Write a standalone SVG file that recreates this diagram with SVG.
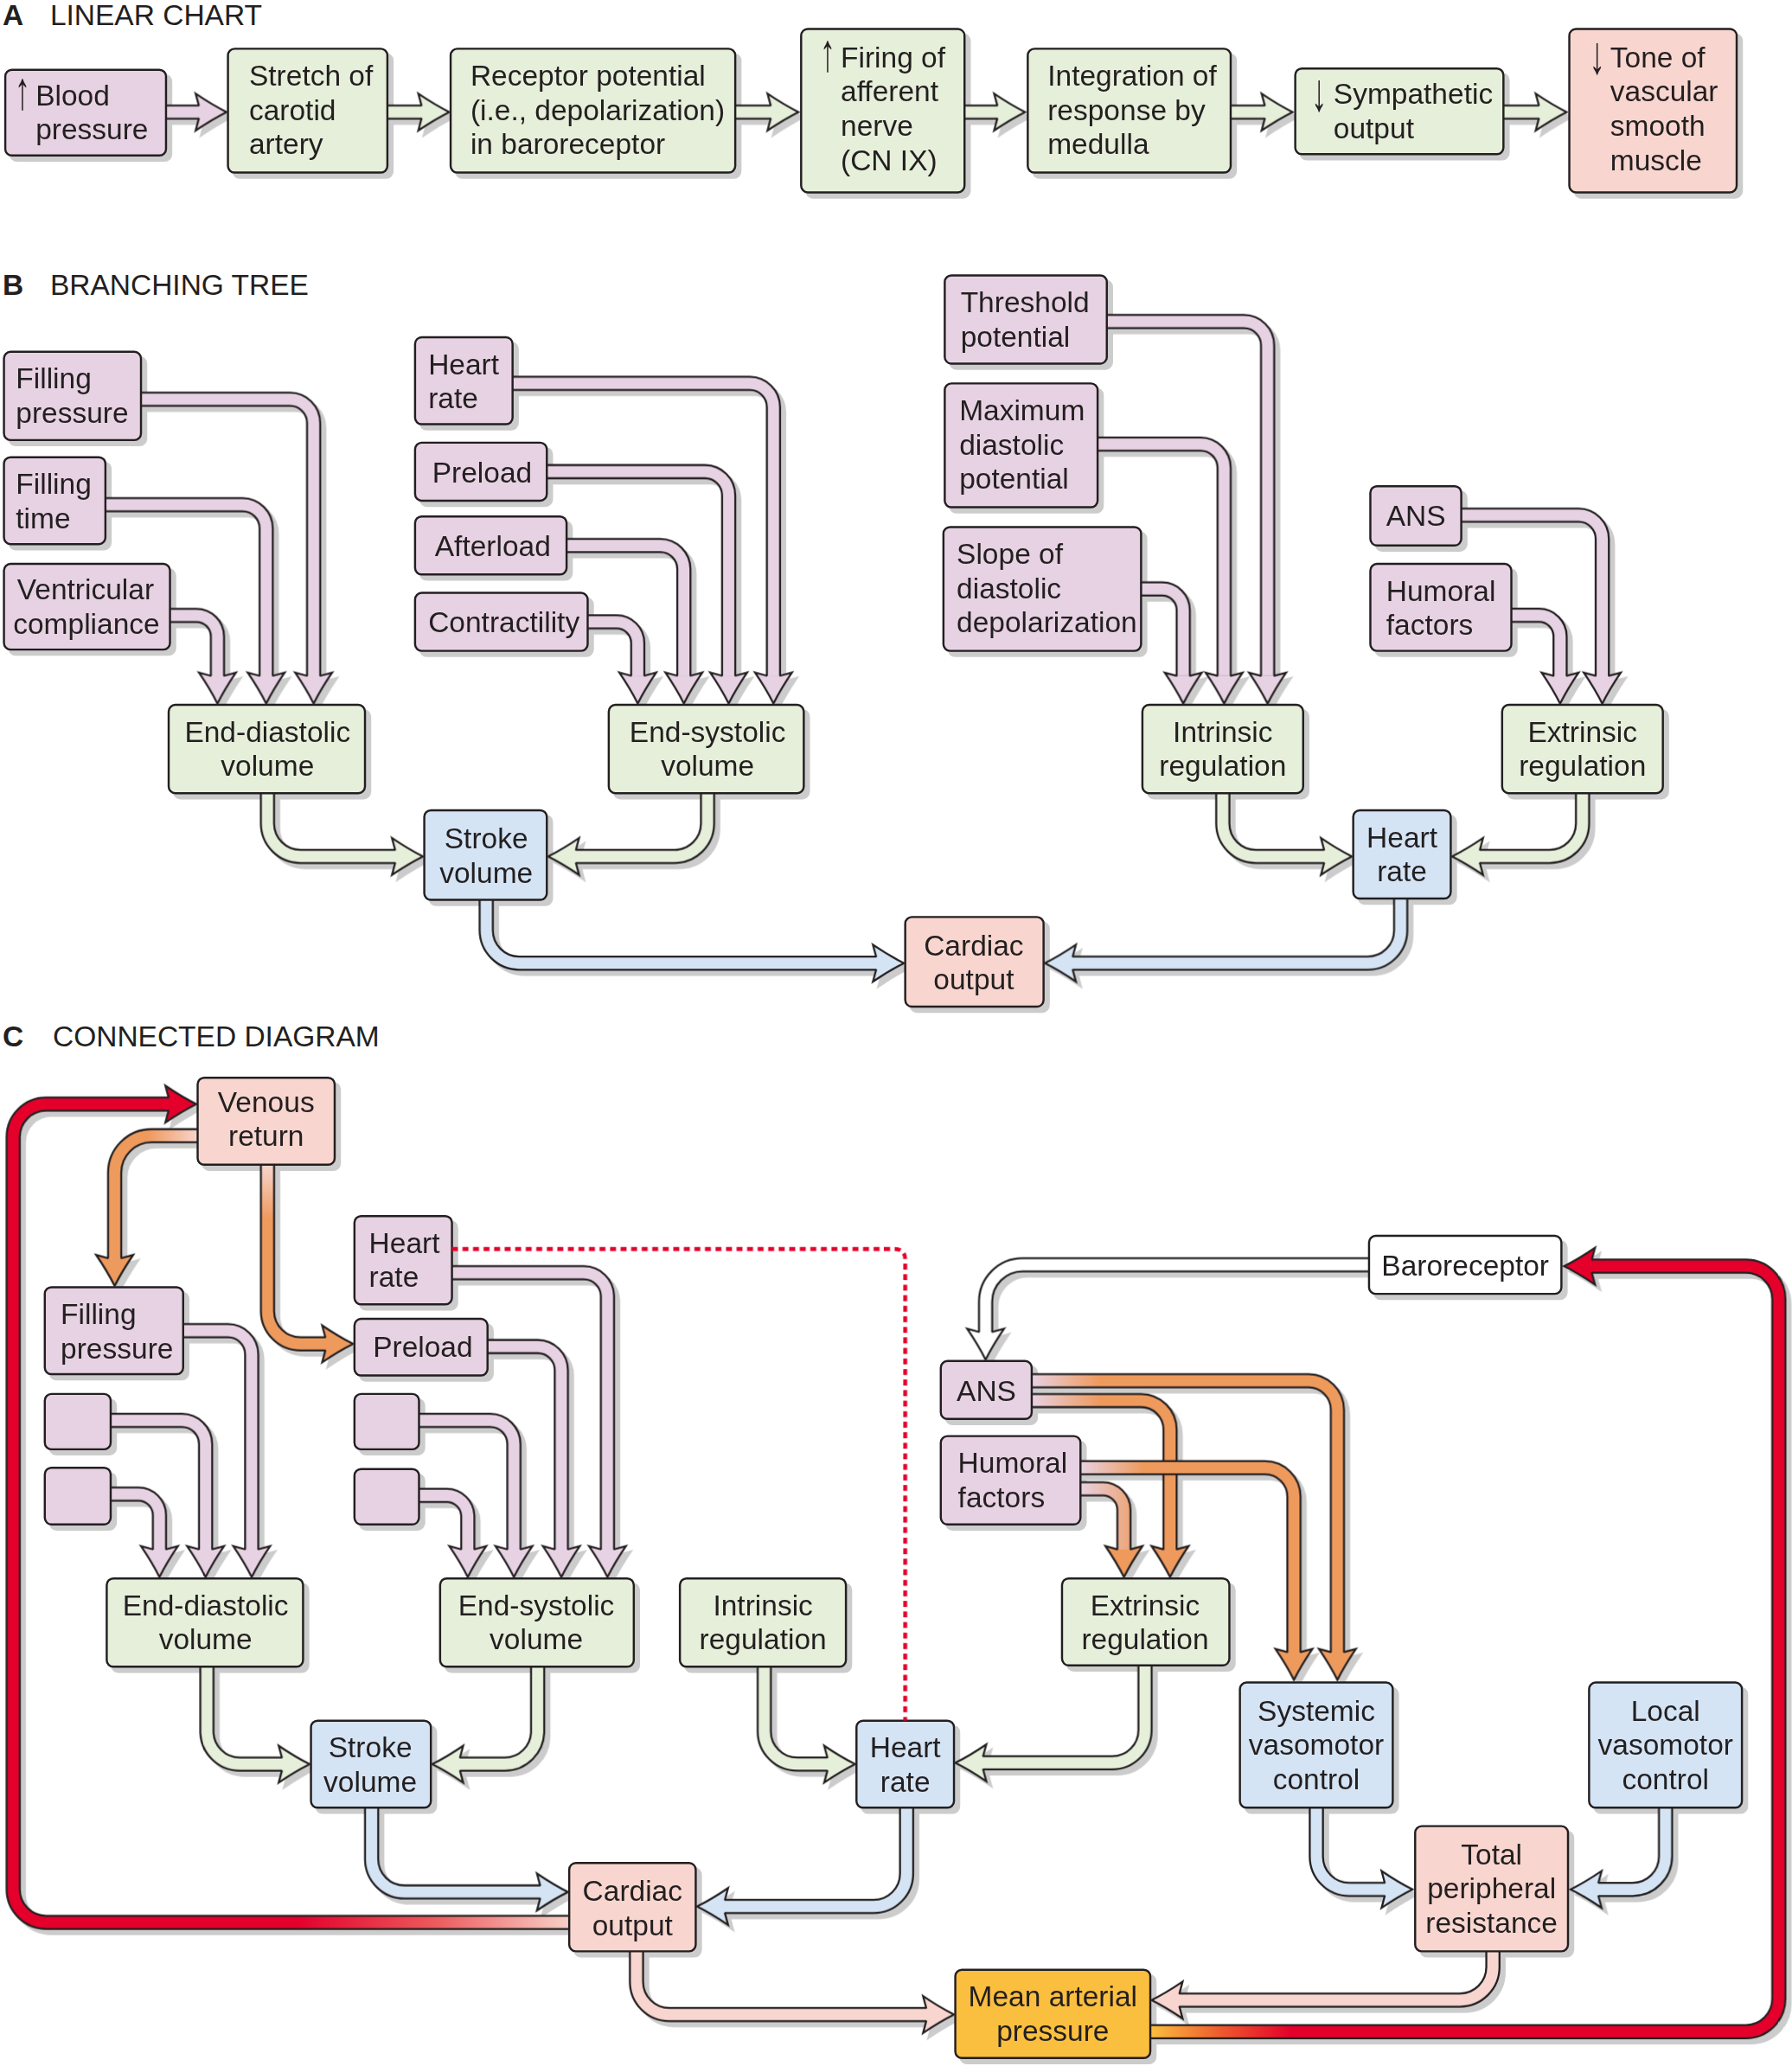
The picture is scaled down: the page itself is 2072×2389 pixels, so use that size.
<svg xmlns="http://www.w3.org/2000/svg" width="2072" height="2389" viewBox="0 0 2072 2389">
<defs>
<style>
text{font-family:"Liberation Sans",Arial,Helvetica,sans-serif;font-size:22px;fill:#231f20}
.t{font-weight:bold}
.m{text-anchor:middle}
.bx{stroke:#231f20;stroke-width:1.6}
.pk{fill:#e7d2e3}.gr{fill:#e6efda}.bl{fill:#d4e4f4}.sa{fill:#f8d6cf}.ye{fill:#fbbf3f}.wh{fill:#ffffff}
.o{fill:none;stroke:#231f20;stroke-width:11.5}
.i{fill:none;stroke-width:8.5}
.cp .i{stroke:#e7d2e3}.cp use{fill:#e7d2e3}
.cg .i{stroke:#e6efda}.cg use{fill:#e6efda}
.cb .i{stroke:#d4e4f4}.cb use{fill:#d4e4f4}
.cs .i{stroke:#f8d6cf}.cs use{fill:#f8d6cf}
.co .i{stroke:#ef9a5d}.co use{fill:#ef9a5d}
.cr .i{stroke:#e4002b}.cr use{fill:#e4002b}
.cw .i{stroke:#ffffff}.cw use{fill:#ffffff}
.dot{fill:none;stroke:#e4002b;stroke-width:3;stroke-dasharray:4.5 3.5}
.ar{text-anchor:middle;font-size:24px;font-weight:bold}
</style>
<path id="hd" d="M-21,-4.6 L-23.5,-14 Q-11,-5.5 0,0 Q-11,5.5 -23.5,14 L-21,4.6" stroke="#231f20" stroke-width="1.5" stroke-linejoin="miter"/>
<filter id="sh" x="-2%" y="-2%" width="104%" height="104%" color-interpolation-filters="sRGB">
<feOffset in="SourceAlpha" dx="4" dy="4" result="o"/>
<feFlood flood-color="#cccccc"/>
<feComposite in2="o" operator="in" result="s"/>
<feMerge><feMergeNode in="s"/><feMergeNode in="SourceGraphic"/></feMerge>
</filter>
<linearGradient id="gRed" gradientUnits="userSpaceOnUse" x1="433" y1="0" x2="225" y2="0"><stop offset="0" stop-color="#f9d2c9"/><stop offset="0.5" stop-color="#ec5a5c"/><stop offset="1" stop-color="#e4002b"/></linearGradient>
<linearGradient id="gVR1" gradientUnits="userSpaceOnUse" x1="151" y1="0" x2="112" y2="0"><stop offset="0" stop-color="#f8d6cf"/><stop offset="1" stop-color="#ef9a5d"/></linearGradient>
<linearGradient id="gVR2" gradientUnits="userSpaceOnUse" x1="0" y1="884" x2="0" y2="925"><stop offset="0" stop-color="#f8d6cf"/><stop offset="1" stop-color="#ef9a5d"/></linearGradient>
<linearGradient id="gAns" gradientUnits="userSpaceOnUse" x1="783" y1="0" x2="835" y2="0"><stop offset="0" stop-color="#e7d2e3"/><stop offset="1" stop-color="#ef9a5d"/></linearGradient>
<linearGradient id="gHum" gradientUnits="userSpaceOnUse" x1="820" y1="0" x2="868" y2="0"><stop offset="0" stop-color="#e7d2e3"/><stop offset="1" stop-color="#ef9a5d"/></linearGradient>
<linearGradient id="gMap" gradientUnits="userSpaceOnUse" x1="873" y1="0" x2="980" y2="0"><stop offset="0" stop-color="#fbbf3f"/><stop offset="0.5" stop-color="#ef5a2e"/><stop offset="1" stop-color="#e4002b"/></linearGradient>
</defs>
<rect width="2072" height="2389" fill="#ffffff"/>
<g transform="scale(1.52353)">
<g id="titles">
<text class="t" x="2" y="19">A</text><text x="38" y="19">LINEAR CHART</text>
<text class="t" x="2" y="224">B</text><text x="38" y="224">BRANCHING TREE</text>
<text class="t" x="2" y="794">C</text><text x="40" y="794">CONNECTED DIAGRAM</text>
</g>
<g filter="url(#sh)">
<g id="connectors">
<!-- A -->
<g class="cp"><path class="o" d="M125 85H152"/><path class="i" d="M125 85H152"/><use href="#hd" transform="translate(172 85)"/></g>
<g class="cg"><path class="o" d="M293 85H321"/><path class="i" d="M293 85H321"/><use href="#hd" transform="translate(341 85)"/></g>
<g class="cg"><path class="o" d="M557 85H586"/><path class="i" d="M557 85H586"/><use href="#hd" transform="translate(606 85)"/></g>
<g class="cg"><path class="o" d="M731 85H758"/><path class="i" d="M731 85H758"/><use href="#hd" transform="translate(778 85)"/></g>
<g class="cg"><path class="o" d="M933 85H961"/><path class="i" d="M933 85H961"/><use href="#hd" transform="translate(981 85)"/></g>
<g class="cg"><path class="o" d="M1140 85H1169"/><path class="i" d="M1140 85H1169"/><use href="#hd" transform="translate(1189 85)"/></g>
<!-- B -->
<g class="cp"><path class="o" d="M106 303H220A18 18 0 0 1 238 321V513"/><path class="i" d="M106 303H220A18 18 0 0 1 238 321V513"/><use href="#hd" transform="translate(238 534) rotate(90)"/></g>
<g class="cp"><path class="o" d="M79 383H184A18 18 0 0 1 202 401V513"/><path class="i" d="M79 383H184A18 18 0 0 1 202 401V513"/><use href="#hd" transform="translate(202 534) rotate(90)"/></g>
<g class="cp"><path class="o" d="M128 467H149A16 16 0 0 1 165 483V513"/><path class="i" d="M128 467H149A16 16 0 0 1 165 483V513"/><use href="#hd" transform="translate(165 534) rotate(90)"/></g>
<g class="cg"><path class="o" d="M203 601V625A25 25 0 0 0 228 650H301"/><path class="i" d="M203 601V625A25 25 0 0 0 228 650H301"/><use href="#hd" transform="translate(321 650)"/></g>
<g class="cg"><path class="o" d="M537 601V625A25 25 0 0 1 512 650H436"/><path class="i" d="M537 601V625A25 25 0 0 1 512 650H436"/><use href="#hd" transform="translate(416 650) rotate(180)"/></g>
<g class="cp"><path class="o" d="M388 291H569A18 18 0 0 1 587 309V513"/><path class="i" d="M388 291H569A18 18 0 0 1 587 309V513"/><use href="#hd" transform="translate(587 534) rotate(90)"/></g>
<g class="cp"><path class="o" d="M414 358H535A18 18 0 0 1 553 376V513"/><path class="i" d="M414 358H535A18 18 0 0 1 553 376V513"/><use href="#hd" transform="translate(553 534) rotate(90)"/></g>
<g class="cp"><path class="o" d="M429 414H501A18 18 0 0 1 519 432V513"/><path class="i" d="M429 414H501A18 18 0 0 1 519 432V513"/><use href="#hd" transform="translate(519 534) rotate(90)"/></g>
<g class="cp"><path class="o" d="M445 472H468A16 16 0 0 1 484 488V513"/><path class="i" d="M445 472H468A16 16 0 0 1 484 488V513"/><use href="#hd" transform="translate(484 534) rotate(90)"/></g>
<g class="cb"><path class="o" d="M369 682V706A25 25 0 0 0 394 731H666"/><path class="i" d="M369 682V706A25 25 0 0 0 394 731H666"/><use href="#hd" transform="translate(686 731)"/></g>
<g class="cb"><path class="o" d="M1063 681V706A25 25 0 0 1 1038 731H813"/><path class="i" d="M1063 681V706A25 25 0 0 1 1038 731H813"/><use href="#hd" transform="translate(793 731) rotate(180)"/></g>
<g class="cp"><path class="o" d="M839 244H944A18 18 0 0 1 962 262V513"/><path class="i" d="M839 244H944A18 18 0 0 1 962 262V513"/><use href="#hd" transform="translate(962 534) rotate(90)"/></g>
<g class="cp"><path class="o" d="M832 337H911A18 18 0 0 1 929 355V513"/><path class="i" d="M832 337H911A18 18 0 0 1 929 355V513"/><use href="#hd" transform="translate(929 534) rotate(90)"/></g>
<g class="cp"><path class="o" d="M865 447H882A16 16 0 0 1 898 463V513"/><path class="i" d="M865 447H882A16 16 0 0 1 898 463V513"/><use href="#hd" transform="translate(898 534) rotate(90)"/></g>
<g class="cp"><path class="o" d="M1108 391H1198A18 18 0 0 1 1216 409V513"/><path class="i" d="M1108 391H1198A18 18 0 0 1 1216 409V513"/><use href="#hd" transform="translate(1216 534) rotate(90)"/></g>
<g class="cp"><path class="o" d="M1146 467H1168A16 16 0 0 1 1184 483V513"/><path class="i" d="M1146 467H1168A16 16 0 0 1 1184 483V513"/><use href="#hd" transform="translate(1184 534) rotate(90)"/></g>
<g class="cg"><path class="o" d="M928 601V625A25 25 0 0 0 953 650H1006"/><path class="i" d="M928 601V625A25 25 0 0 0 953 650H1006"/><use href="#hd" transform="translate(1026 650)"/></g>
<g class="cg"><path class="o" d="M1201 601V625A25 25 0 0 1 1176 650H1122"/><path class="i" d="M1201 601V625A25 25 0 0 1 1176 650H1122"/><use href="#hd" transform="translate(1102 650) rotate(180)"/></g>
<!-- C -->
<g class="cr"><path class="o" d="M433 1459H35A25 25 0 0 1 10 1434V863A25 25 0 0 1 35 838H129"/><path class="i" style="stroke:url(#gRed)" d="M433 1459H35A25 25 0 0 1 10 1434V863A25 25 0 0 1 35 838H129"/><use href="#hd" transform="translate(149 838)"/></g>
<g class="co"><path class="o" d="M151 862H115A28 28 0 0 0 87 890V955"/><path class="i" style="stroke:url(#gVR1)" d="M151 862H115A28 28 0 0 0 87 890V955"/><use href="#hd" transform="translate(87 976) rotate(90)"/></g>
<g class="co"><path class="o" d="M203 883V995A25 25 0 0 0 228 1020H248"/><path class="i" style="stroke:url(#gVR2)" d="M203 883V995A25 25 0 0 0 228 1020H248"/><use href="#hd" transform="translate(268 1020)"/></g>
<g class="cp"><path class="o" d="M138 1010H173A18 18 0 0 1 191 1028V1177"/><path class="i" d="M138 1010H173A18 18 0 0 1 191 1028V1177"/><use href="#hd" transform="translate(191 1197) rotate(90)"/></g>
<g class="cp"><path class="o" d="M83 1078H138A18 18 0 0 1 156 1096V1177"/><path class="i" d="M83 1078H138A18 18 0 0 1 156 1096V1177"/><use href="#hd" transform="translate(156 1197) rotate(90)"/></g>
<g class="cp"><path class="o" d="M83 1134H105A16 16 0 0 1 121 1150V1177"/><path class="i" d="M83 1134H105A16 16 0 0 1 121 1150V1177"/><use href="#hd" transform="translate(121 1197) rotate(90)"/></g>
<g class="cp"><path class="o" d="M342 966H443A18 18 0 0 1 461 984V1177"/><path class="i" d="M342 966H443A18 18 0 0 1 461 984V1177"/><use href="#hd" transform="translate(461 1197) rotate(90)"/></g>
<g class="cp"><path class="o" d="M369 1022H408A18 18 0 0 1 426 1040V1177"/><path class="i" d="M369 1022H408A18 18 0 0 1 426 1040V1177"/><use href="#hd" transform="translate(426 1197) rotate(90)"/></g>
<g class="cp"><path class="o" d="M317 1078H372A18 18 0 0 1 390 1096V1177"/><path class="i" d="M317 1078H372A18 18 0 0 1 390 1096V1177"/><use href="#hd" transform="translate(390 1197) rotate(90)"/></g>
<g class="cp"><path class="o" d="M317 1135H339A16 16 0 0 1 355 1151V1177"/><path class="i" d="M317 1135H339A16 16 0 0 1 355 1151V1177"/><use href="#hd" transform="translate(355 1197) rotate(90)"/></g>
<g class="cg"><path class="o" d="M157 1264V1314A25 25 0 0 0 182 1339H215"/><path class="i" d="M157 1264V1314A25 25 0 0 0 182 1339H215"/><use href="#hd" transform="translate(235 1339)"/></g>
<g class="cg"><path class="o" d="M408 1264V1314A25 25 0 0 1 383 1339H348"/><path class="i" d="M408 1264V1314A25 25 0 0 1 383 1339H348"/><use href="#hd" transform="translate(328 1339) rotate(180)"/></g>
<g class="cg"><path class="o" d="M580 1264V1314A25 25 0 0 0 605 1339H629"/><path class="i" d="M580 1264V1314A25 25 0 0 0 605 1339H629"/><use href="#hd" transform="translate(649 1339)"/></g>
<g class="cg"><path class="o" d="M869 1263V1313A25 25 0 0 1 844 1338H745"/><path class="i" d="M869 1263V1313A25 25 0 0 1 844 1338H745"/><use href="#hd" transform="translate(725 1338) rotate(180)"/></g>
<g class="cb"><path class="o" d="M688 1371V1422A25 25 0 0 1 663 1447H549"/><path class="i" d="M688 1371V1422A25 25 0 0 1 663 1447H549"/><use href="#hd" transform="translate(529 1447) rotate(180)"/></g>
<g class="cb"><path class="o" d="M282 1371V1411A25 25 0 0 0 307 1436H411"/><path class="i" d="M282 1371V1411A25 25 0 0 0 307 1436H411"/><use href="#hd" transform="translate(431 1436)"/></g>
<g class="cs"><path class="o" d="M483 1480V1504A25 25 0 0 0 508 1529H704"/><path class="i" d="M483 1480V1504A25 25 0 0 0 508 1529H704"/><use href="#hd" transform="translate(724 1529)"/></g>
<g class="cs"><path class="o" d="M1133 1480V1493A25 25 0 0 1 1108 1518H894"/><path class="i" d="M1133 1480V1493A25 25 0 0 1 1108 1518H894"/><use href="#hd" transform="translate(874 1518) rotate(180)"/></g>
<g class="cb"><path class="o" d="M999 1371V1409A25 25 0 0 0 1024 1434H1052"/><path class="i" d="M999 1371V1409A25 25 0 0 0 1024 1434H1052"/><use href="#hd" transform="translate(1072 1434)"/></g>
<g class="cb"><path class="o" d="M1264 1371V1409A25 25 0 0 1 1239 1434H1212"/><path class="i" d="M1264 1371V1409A25 25 0 0 1 1239 1434H1212"/><use href="#hd" transform="translate(1192 1434) rotate(180)"/></g>
<g class="cr"><path class="o" d="M872 1542H1325A25 25 0 0 0 1350 1517V986A25 25 0 0 0 1325 961H1207"/><path class="i" style="stroke:url(#gMap)" d="M872 1542H1325A25 25 0 0 0 1350 1517V986A25 25 0 0 0 1325 961H1207"/><use href="#hd" transform="translate(1187 961) rotate(180)"/></g>
<g class="cw"><path class="o" d="M1040 960H776A28 28 0 0 0 748 988V1012"/><path class="i" d="M1040 960H776A28 28 0 0 0 748 988V1012"/><use href="#hd" transform="translate(748 1032) rotate(90)"/></g>
<g class="co"><path class="o" d="M782 1048H993A22 22 0 0 1 1015 1070V1255"/><path class="i" style="stroke:url(#gAns)" d="M782 1048H993A22 22 0 0 1 1015 1070V1255"/><use href="#hd" transform="translate(1015 1275) rotate(90)"/></g>
<g class="co"><path class="o" d="M782 1063H866A22 22 0 0 1 888 1085V1177"/><path class="i" style="stroke:url(#gAns)" d="M782 1063H866A22 22 0 0 1 888 1085V1177"/><use href="#hd" transform="translate(888 1197) rotate(90)"/></g>
<g class="co"><path class="o" d="M819 1114H960A22 22 0 0 1 982 1136V1255"/><path class="i" style="stroke:url(#gHum)" d="M819 1114H960A22 22 0 0 1 982 1136V1255"/><use href="#hd" transform="translate(982 1275) rotate(90)"/></g>
<g class="co"><path class="o" d="M819 1130H837A16 16 0 0 1 853 1146V1177"/><path class="i" style="stroke:url(#gHum)" d="M819 1130H837A16 16 0 0 1 853 1146V1177"/><use href="#hd" transform="translate(853 1197) rotate(90)"/></g>
</g>
<g id="nodes">
<g id="a-blood-pressure"><rect class="bx pk" x="4" y="53" width="122" height="65" rx="5"/><text class="ar" transform="translate(17 83) scale(1 1.7)">↑</text><text x="27" y="80">Blood</text><text x="27" y="106">pressure</text></g>
<g id="a-stretch"><rect class="bx gr" x="173" y="37" width="121" height="94" rx="5"/><text x="189" y="65">Stretch of</text><text x="189" y="91">carotid</text><text x="189" y="117">artery</text></g>
<g id="a-receptor"><rect class="bx gr" x="342" y="37" width="216" height="94" rx="5"/><text x="357" y="65">Receptor potential</text><text x="357" y="91">(i.e., depolarization)</text><text x="357" y="117">in baroreceptor</text></g>
<g id="a-firing"><rect class="bx gr" x="608" y="22" width="124" height="124" rx="5"/><text class="ar" transform="translate(628 54) scale(1 1.7)">↑</text><text x="638" y="51">Firing of</text><text x="638" y="77">afferent</text><text x="638" y="103">nerve</text><text x="638" y="129">(CN IX)</text></g>
<g id="a-integration"><rect class="bx gr" x="780" y="37" width="154" height="94" rx="5"/><text x="795" y="65">Integration of</text><text x="795" y="91">response by</text><text x="795" y="117">medulla</text></g>
<g id="a-sympathetic"><rect class="bx gr" x="983" y="52" width="158" height="65" rx="5"/><text class="ar" transform="translate(1001 84) scale(1 1.7)">↓</text><text x="1012" y="79">Sympathetic</text><text x="1012" y="105">output</text></g>
<g id="a-tone"><rect class="bx sa" x="1191" y="22" width="127" height="124" rx="5"/><text class="ar" transform="translate(1212 56) scale(1 1.7)">↓</text><text x="1222" y="51">Tone of</text><text x="1222" y="77">vascular</text><text x="1222" y="103">smooth</text><text x="1222" y="129">muscle</text></g>

<g id="b-filling-pressure"><rect class="bx pk" x="3" y="267" width="104" height="67" rx="5"/><text x="12" y="295">Filling</text><text x="12" y="321">pressure</text></g>
<g id="b-filling-time"><rect class="bx pk" x="3" y="347" width="77" height="66" rx="5"/><text x="12" y="375">Filling</text><text x="12" y="401">time</text></g>
<g id="b-ventricular-compliance"><rect class="bx pk" x="3" y="428" width="126" height="65" rx="5"/><text x="13" y="455">Ventricular</text><text x="10" y="481">compliance</text></g>
<g id="b-end-diastolic-volume"><rect class="bx gr" x="128" y="535" width="149" height="67" rx="5"/><text class="m" x="203" y="563">End-diastolic</text><text class="m" x="203" y="589">volume</text></g>
<g id="b-heart-rate-input"><rect class="bx pk" x="315" y="256" width="74" height="66" rx="5"/><text x="325" y="284">Heart</text><text x="325" y="310">rate</text></g>
<g id="b-preload"><rect class="bx pk" x="315" y="336" width="100" height="44" rx="5"/><text x="328" y="366">Preload</text></g>
<g id="b-afterload"><rect class="bx pk" x="315" y="392" width="115" height="44" rx="5"/><text x="330" y="422">Afterload</text></g>
<g id="b-contractility"><rect class="bx pk" x="315" y="450" width="131" height="44" rx="5"/><text x="325" y="480">Contractility</text></g>
<g id="b-end-systolic-volume"><rect class="bx gr" x="462" y="535" width="148" height="67" rx="5"/><text class="m" x="537" y="563">End-systolic</text><text class="m" x="537" y="589">volume</text></g>
<g id="b-stroke-volume"><rect class="bx bl" x="322" y="615" width="93" height="68" rx="5"/><text class="m" x="369" y="644">Stroke</text><text class="m" x="369" y="670">volume</text></g>
<g id="b-cardiac-output"><rect class="bx sa" x="687" y="696" width="105" height="68" rx="5"/><text class="m" x="739" y="725">Cardiac</text><text class="m" x="739" y="751">output</text></g>
<g id="b-threshold-potential"><rect class="bx pk" x="717" y="209" width="123" height="67" rx="5"/><text x="729" y="237">Threshold</text><text x="729" y="263">potential</text></g>
<g id="b-maximum-diastolic-potential"><rect class="bx pk" x="717" y="291" width="116" height="94" rx="5"/><text x="728" y="319">Maximum</text><text x="728" y="345">diastolic</text><text x="728" y="371">potential</text></g>
<g id="b-slope"><rect class="bx pk" x="716" y="400" width="150" height="94" rx="5"/><text x="726" y="428">Slope of</text><text x="726" y="454">diastolic</text><text x="726" y="480">depolarization</text></g>
<g id="b-intrinsic-regulation"><rect class="bx gr" x="867" y="535" width="122" height="67" rx="5"/><text class="m" x="928" y="563">Intrinsic</text><text class="m" x="928" y="589">regulation</text></g>
<g id="b-ans"><rect class="bx pk" x="1040" y="369" width="69" height="45" rx="5"/><text x="1052" y="399">ANS</text></g>
<g id="b-humoral-factors"><rect class="bx pk" x="1040" y="428" width="107" height="66" rx="5"/><text x="1052" y="456">Humoral</text><text x="1052" y="482">factors</text></g>
<g id="b-extrinsic-regulation"><rect class="bx gr" x="1140" y="535" width="122" height="67" rx="5"/><text class="m" x="1201" y="563">Extrinsic</text><text class="m" x="1201" y="589">regulation</text></g>
<g id="b-heart-rate"><rect class="bx bl" x="1027" y="615" width="74" height="67" rx="5"/><text class="m" x="1064" y="643">Heart</text><text class="m" x="1064" y="669">rate</text></g>

<g id="c-venous-return"><rect class="bx sa" x="150" y="818" width="104" height="66" rx="5"/><text class="m" x="202" y="844">Venous</text><text class="m" x="202" y="870">return</text></g>
<g id="c-filling-pressure"><rect class="bx pk" x="34" y="977" width="105" height="66" rx="5"/><text x="46" y="1005">Filling</text><text x="46" y="1031">pressure</text></g>
<g id="c-blank-1"><rect class="bx pk" x="34" y="1058" width="50" height="42" rx="5"/></g>
<g id="c-blank-2"><rect class="bx pk" x="34" y="1114" width="50" height="43" rx="5"/></g>
<g id="c-heart-rate-input"><rect class="bx pk" x="269" y="923" width="74" height="67" rx="5"/><text x="280" y="951">Heart</text><text x="280" y="977">rate</text></g>
<g id="c-preload"><rect class="bx pk" x="269" y="1001" width="101" height="43" rx="5"/><text x="283" y="1030">Preload</text></g>
<g id="c-blank-3"><rect class="bx pk" x="269" y="1058" width="49" height="42" rx="5"/></g>
<g id="c-blank-4"><rect class="bx pk" x="269" y="1115" width="49" height="42" rx="5"/></g>
<g id="c-end-diastolic-volume"><rect class="bx gr" x="81" y="1198" width="149" height="67" rx="5"/><text class="m" x="156" y="1226">End-diastolic</text><text class="m" x="156" y="1252">volume</text></g>
<g id="c-end-systolic-volume"><rect class="bx gr" x="334" y="1198" width="147" height="67" rx="5"/><text class="m" x="407" y="1226">End-systolic</text><text class="m" x="407" y="1252">volume</text></g>
<g id="c-intrinsic-regulation"><rect class="bx gr" x="516" y="1198" width="126" height="67" rx="5"/><text class="m" x="579" y="1226">Intrinsic</text><text class="m" x="579" y="1252">regulation</text></g>
<g id="c-extrinsic-regulation"><rect class="bx gr" x="806" y="1198" width="127" height="66" rx="5"/><text class="m" x="869" y="1226">Extrinsic</text><text class="m" x="869" y="1252">regulation</text></g>
<g id="c-stroke-volume"><rect class="bx bl" x="236" y="1306" width="91" height="66" rx="5"/><text class="m" x="281" y="1334">Stroke</text><text class="m" x="281" y="1360">volume</text></g>
<g id="c-heart-rate"><rect class="bx bl" x="650" y="1306" width="74" height="66" rx="5"/><text class="m" x="687" y="1334">Heart</text><text class="m" x="687" y="1360">rate</text></g>
<g id="c-cardiac-output"><rect class="bx sa" x="432" y="1414" width="96" height="67" rx="5"/><text class="m" x="480" y="1443">Cardiac</text><text class="m" x="480" y="1469">output</text></g>
<g id="c-baroreceptor"><rect class="bx wh" x="1039" y="938" width="146" height="44" rx="5"/><text class="m" x="1112" y="968">Baroreceptor</text></g>
<g id="c-ans"><rect class="bx pk" x="714" y="1033" width="69" height="44" rx="5"/><text x="726" y="1063">ANS</text></g>
<g id="c-humoral-factors"><rect class="bx pk" x="714" y="1090" width="106" height="67" rx="5"/><text x="727" y="1118">Humoral</text><text x="727" y="1144">factors</text></g>
<g id="c-systemic-vasomotor-control"><rect class="bx bl" x="941" y="1277" width="116" height="95" rx="5"/><text class="m" x="999" y="1306">Systemic</text><text class="m" x="999" y="1332">vasomotor</text><text class="m" x="999" y="1358">control</text></g>
<g id="c-local-vasomotor-control"><rect class="bx bl" x="1206" y="1277" width="116" height="95" rx="5"/><text class="m" x="1264" y="1306">Local</text><text class="m" x="1264" y="1332">vasomotor</text><text class="m" x="1264" y="1358">control</text></g>
<g id="c-total-peripheral-resistance"><rect class="bx sa" x="1074" y="1386" width="116" height="95" rx="5"/><text class="m" x="1132" y="1415">Total</text><text class="m" x="1132" y="1441">peripheral</text><text class="m" x="1132" y="1467">resistance</text></g>
<g id="c-mean-arterial-pressure"><rect class="bx ye" x="725" y="1495" width="148" height="67" rx="5"/><text class="m" x="799" y="1523">Mean arterial</text><text class="m" x="799" y="1549">pressure</text></g>
</g>
</g>
<g id="connector-dotted"><path class="dot" d="M343 948H679Q687 948 687 956V1306"/></g>
</g>
</svg>
